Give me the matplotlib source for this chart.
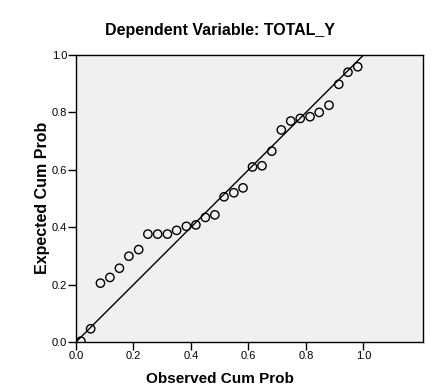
import matplotlib.pyplot as plt

plt.rcParams['font.family'] = ['Liberation Sans', 'DejaVu Sans']

observed = [0.017, 0.051, 0.085, 0.118, 0.151, 0.184, 0.218, 0.250, 0.284, 0.318,
            0.350, 0.384, 0.417, 0.450, 0.483, 0.515, 0.549, 0.581, 0.614, 0.647,
            0.681, 0.714, 0.747, 0.780, 0.814, 0.846, 0.880, 0.914, 0.946, 0.980]
expected = [0.003, 0.046, 0.205, 0.225, 0.257, 0.299, 0.322, 0.376, 0.376, 0.376,
            0.389, 0.403, 0.408, 0.434, 0.443, 0.506, 0.520, 0.537, 0.610, 0.614,
            0.665, 0.739, 0.770, 0.779, 0.785, 0.800, 0.825, 0.898, 0.940, 0.959]
ticks = [0.0, 0.2, 0.4, 0.6, 0.8, 1.0]
tick_labels = ['0.0', '0.2', '0.4', '0.6', '0.8', '1.0']

fig = plt.figure(figsize=(4.39, 3.89), dpi=100)
ax = fig.add_axes([76/439, 1-342/389, (423-76)/439, (342-55)/389])
ax.set_facecolor('#f0f0f0')

# reference line
ax.plot([0, 1], [0, 1], color='black', lw=1)
ax.scatter(observed, expected, s=36, facecolors='none', edgecolors='black', linewidths=1, zorder=3)

ax.set_xlim(0, 1.207)
ax.set_ylim(0, 1)
ax.set_xticks(ticks)
ax.set_xticklabels(tick_labels)
ax.set_yticks(ticks)
ax.set_yticklabels(tick_labels)
ax.tick_params(direction='out', length=5.5, width=1, labelsize=8, pad=1)
for s in ax.spines.values():
    s.set_color('black')
    s.set_linewidth(1)

fig.text(220/439, 1-379/389, 'Observed Cum Prob', ha='center', va='center',
         fontsize=11, fontweight='bold')
fig.text(42.5/439, 1-198/389, 'Expected Cum Prob', ha='center', va='center',
         rotation=90, fontsize=11.5, fontweight='bold')
fig.text(220/439, 1-30/389, 'Dependent Variable: TOTAL_Y', ha='center', va='center',
         fontsize=11.5, fontweight='bold')

fig.savefig('out.png', dpi=100)
